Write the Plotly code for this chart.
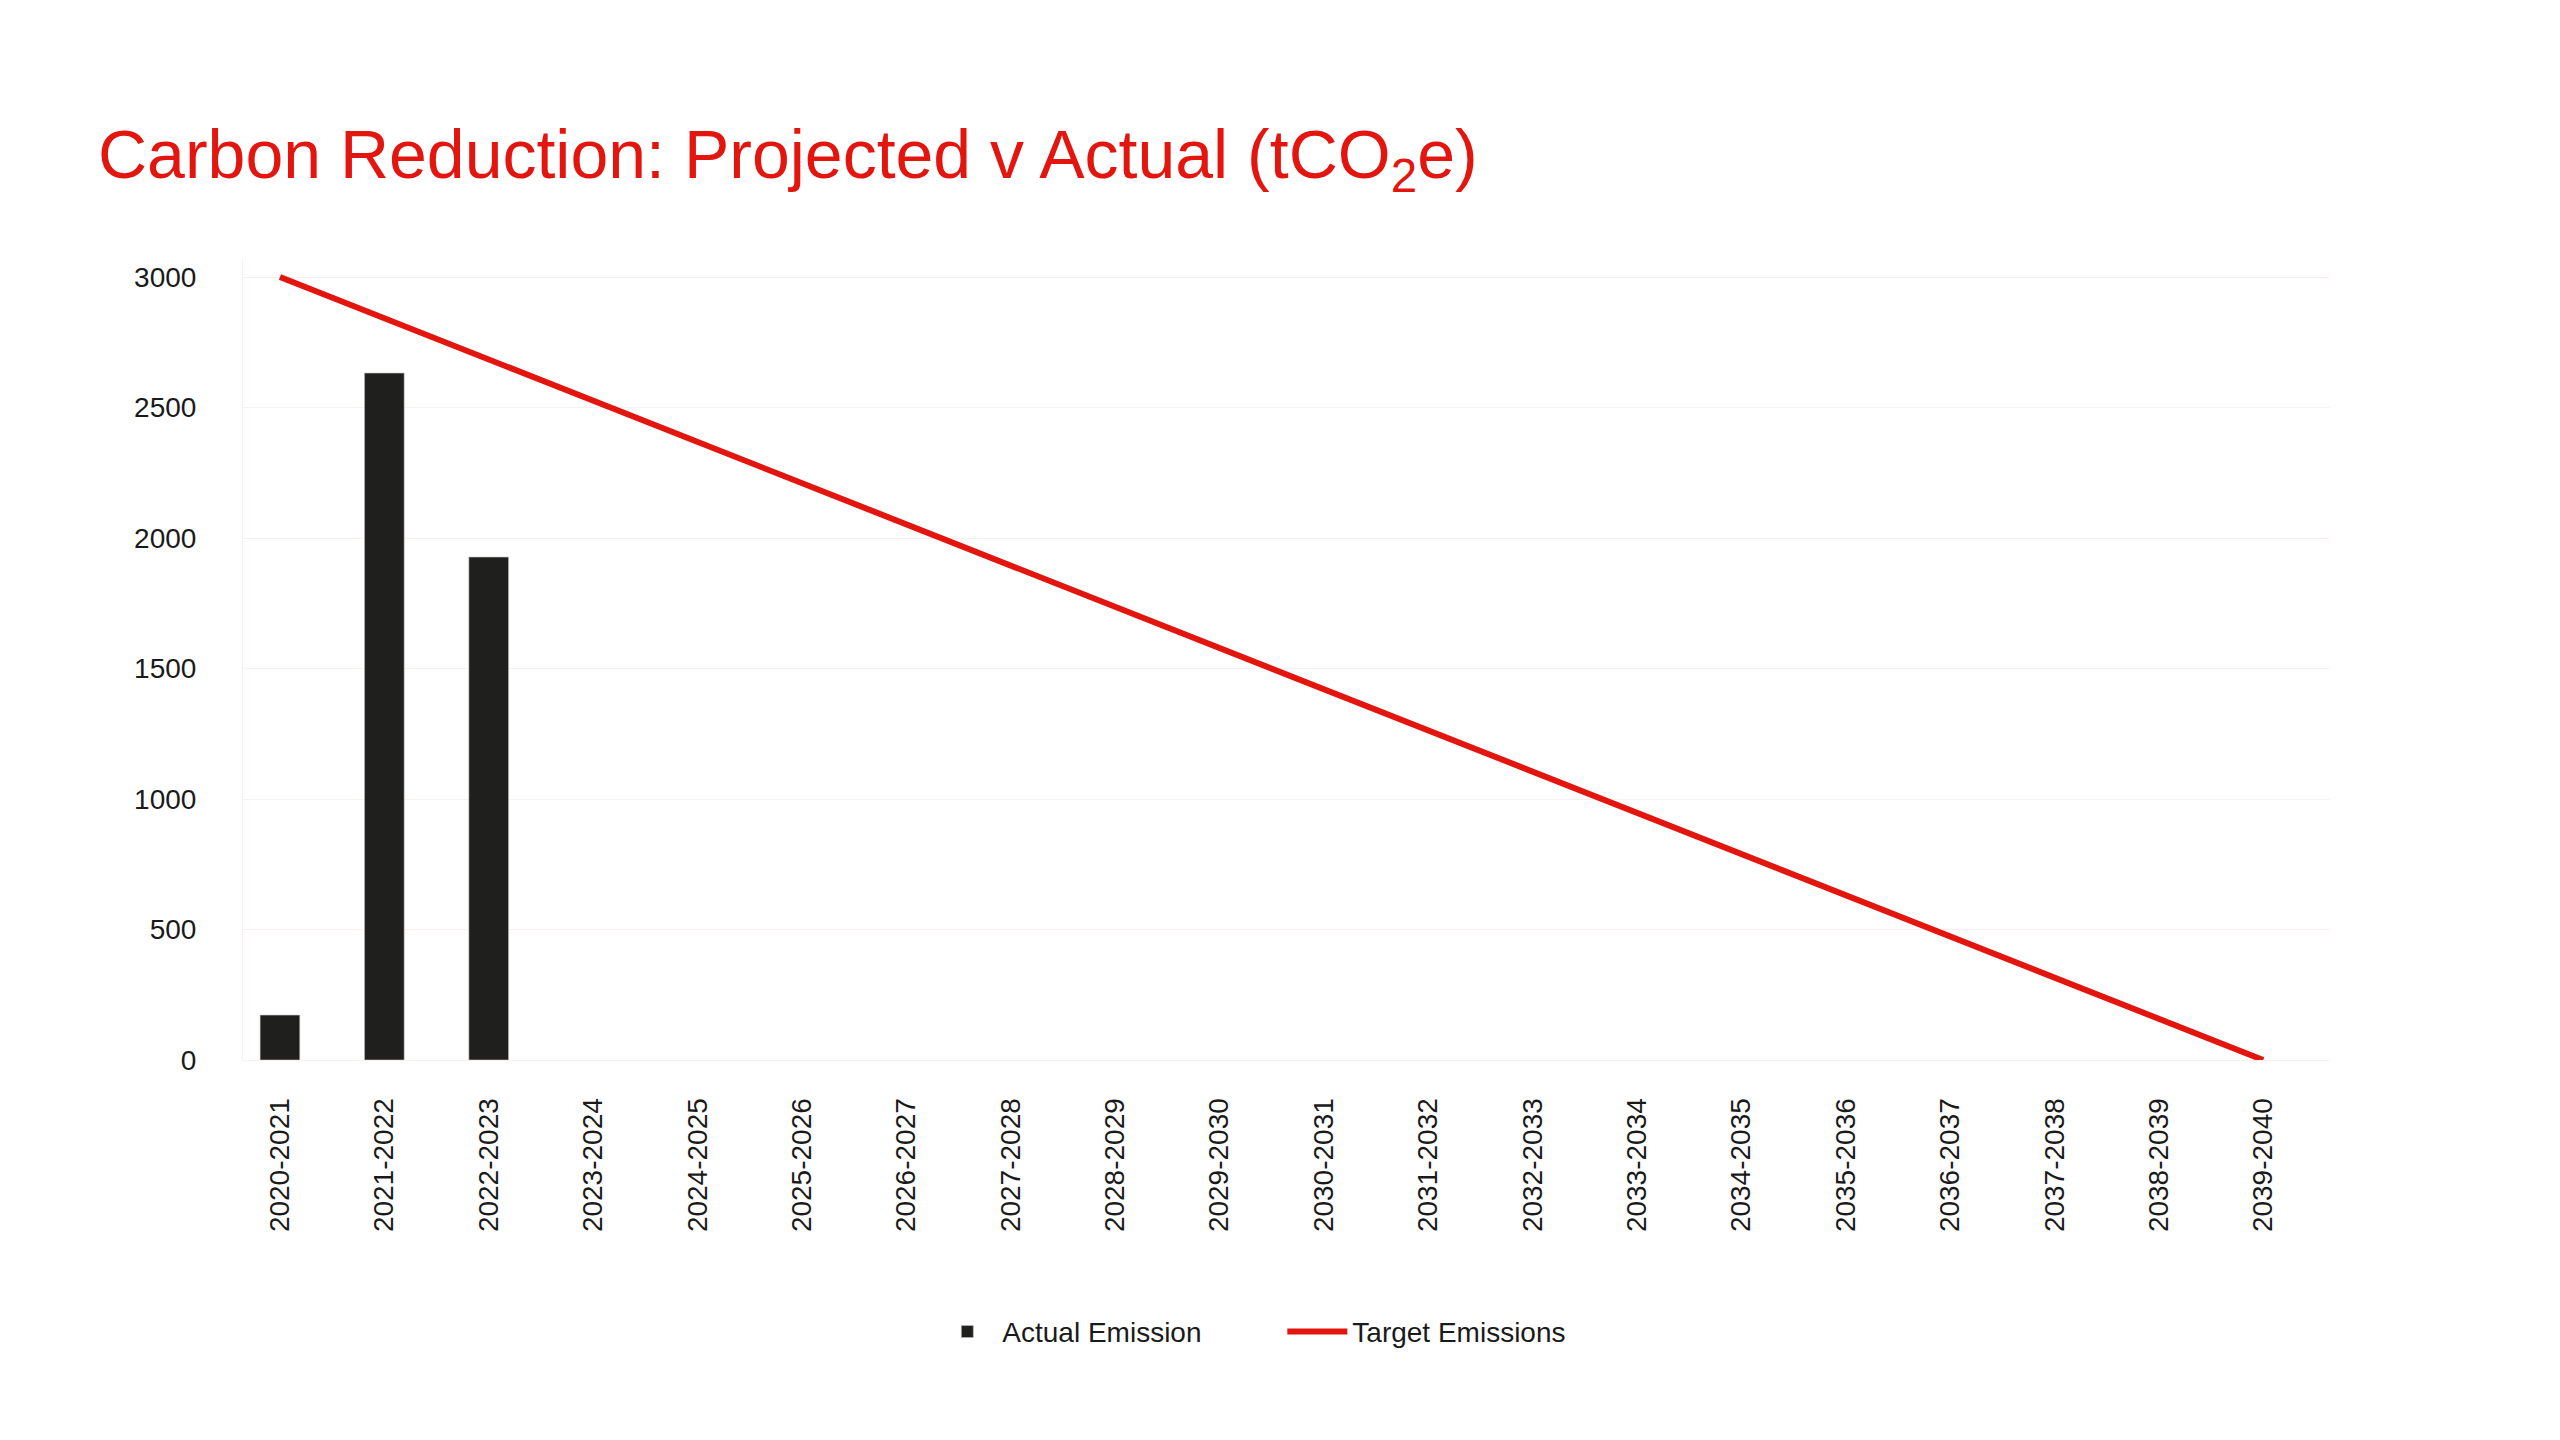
import plotly.graph_objects as go

categories = ["2020-2021", "2021-2022", "2022-2023", "2023-2024", "2024-2025", "2025-2026",
              "2026-2027", "2027-2028", "2028-2029", "2029-2030", "2030-2031", "2031-2032",
              "2032-2033", "2033-2034", "2034-2035", "2035-2036", "2036-2037", "2037-2038",
              "2038-2039", "2039-2040"]
actual_categories = ["2020-2021", "2021-2022", "2022-2023"]
actual_values = [172, 2632, 1927]
target_values = [3000, 2842, 2684, 2526, 2368, 2211, 2053, 1895, 1737, 1579,
                 1421, 1263, 1105, 947, 789, 632, 474, 316, 158, 0]
y_ticks = [0, 500, 1000, 1500, 2000, 2500, 3000]

RED = "#e3160f"
BAR = "#1f1f1d"
GRID = "#fcefef"
FONT = "Liberation Sans, Arial, sans-serif"

fig = go.Figure()
fig.add_trace(go.Bar(
    x=actual_categories, y=actual_values, name="Actual Emission",
    marker=dict(color=BAR, line=dict(color="#bdbdbd", width=0.6)),
    width=0.38,
))
fig.add_trace(go.Scatter(
    x=categories, y=target_values, name="Target Emissions", mode="lines",
    line=dict(color=RED, width=6),
))

fig.update_layout(
    width=2560, height=1440,
    paper_bgcolor="white", plot_bgcolor="white",
    margin=dict(l=243, r=230, t=258, b=380),
    font=dict(family=FONT, size=28, color="#1a1a1a"),
    title=dict(
        text="Carbon Reduction: Projected v Actual (tCO<sub>2</sub>e)",
        x=98 / 2560, xanchor="left", xref="container",
        y=1 - 154 / 1440, yanchor="middle", yref="container",
        font=dict(family=FONT, size=68, color=RED),
    ),
    showlegend=True,
    legend=dict(
        orientation="h", x=0.498, xanchor="center", y=-0.339, yanchor="middle",
        font=dict(size=28, color="#1a1a1a"), itemwidth=60, entrywidth=275,
        traceorder="normal",
    ),
    xaxis=dict(
        type="category", categoryorder="array", categoryarray=categories,
        range=[-0.354, 19.64], tickangle=-90,
        showgrid=False, showline=True, linecolor=GRID, linewidth=1,
        ticks="outside", ticklen=26, tickcolor="rgba(0,0,0,0)",
        tickfont=dict(size=28, color="#1a1a1a"), zeroline=False,
    ),
    yaxis=dict(
        range=[0, 3073], tickvals=y_ticks,
        showgrid=True, gridcolor=GRID, gridwidth=1,
        showline=True, linecolor=GRID, linewidth=1,
        zeroline=True, zerolinecolor=GRID, zerolinewidth=1,
        ticks="outside", ticklen=40, tickcolor="rgba(0,0,0,0)",
        tickfont=dict(size=28, color="#1a1a1a"),
    ),
    bargap=0.6,
)

fig.write_html("out.html")
